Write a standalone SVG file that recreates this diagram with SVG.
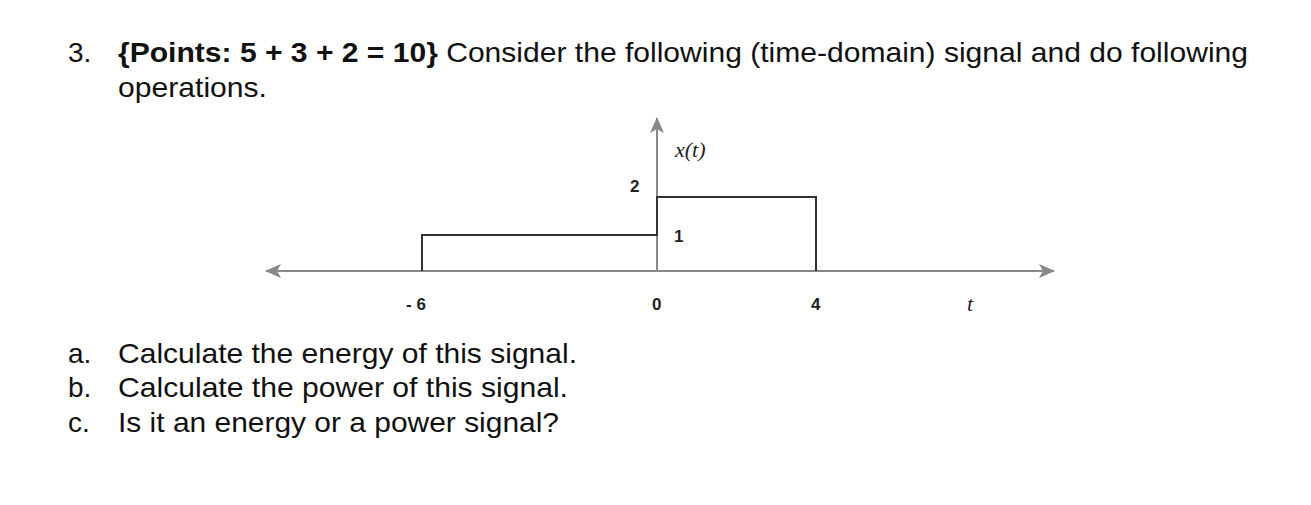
<svg xmlns="http://www.w3.org/2000/svg" width="1311" height="505" viewBox="0 0 1311 505">
<style>
.t{font-family:"Liberation Sans",Arial,sans-serif;font-size:28px;fill:#111}
.s{font-family:"Liberation Sans",Arial,sans-serif;font-size:17px;font-weight:bold;fill:#222}
.m{font-family:"Liberation Serif","Times New Roman",serif;font-style:italic;font-size:22px;fill:#222}
.ax{stroke:#888;stroke-width:2;fill:none}
.sig{stroke:#333;stroke-width:2;fill:none}
</style>
<defs><marker id="ah" markerWidth="16" markerHeight="14" refX="15" refY="7" orient="auto" markerUnits="userSpaceOnUse"><path d="M0,0 L16,7 L0,14 L4,7 Z" fill="#888"/></marker></defs>
<rect width="1311" height="505" fill="#fff"/>
<text class="t" x="68" y="62">3.</text>
<text class="t" x="118" y="62" textLength="1130" lengthAdjust="spacingAndGlyphs"><tspan font-weight="bold">{Points: 5 + 3 + 2 = 10}</tspan> Consider the following (time-domain) signal and do following</text>
<text class="t" x="118" y="97" textLength="149" lengthAdjust="spacingAndGlyphs">operations.</text>
<g id="connectors">
<line class="ax" x1="660" y1="271" x2="266" y2="271" marker-end="url(#ah)"/>
<line class="ax" x1="660" y1="271" x2="1054" y2="271" marker-end="url(#ah)"/>
<line class="ax" x1="657" y1="271" x2="657" y2="118" marker-end="url(#ah)"/>
<polyline class="sig" points="422,271 422,235 657,235 657,197 816,197 816,271"/>
</g>
<g id="labels">
<text class="m" x="675" y="157">x(t)</text>
<text class="s" x="630" y="192">2</text>
<text class="s" x="674" y="242">1</text>
<text class="s" x="406" y="310">- 6</text>
<text class="s" x="652" y="310">0</text>
<text class="s" x="811" y="310">4</text>
<text class="m" x="967" y="311">t</text>
</g>
<text class="t" x="68" y="363">a.</text><text class="t" x="118" y="363" textLength="459" lengthAdjust="spacingAndGlyphs">Calculate the energy of this signal.</text>
<text class="t" x="68" y="397">b.</text><text class="t" x="118" y="397" textLength="450" lengthAdjust="spacingAndGlyphs">Calculate the power of this signal.</text>
<text class="t" x="68" y="432">c.</text><text class="t" x="118" y="432" textLength="441" lengthAdjust="spacingAndGlyphs">Is it an energy or a power signal?</text>
</svg>
